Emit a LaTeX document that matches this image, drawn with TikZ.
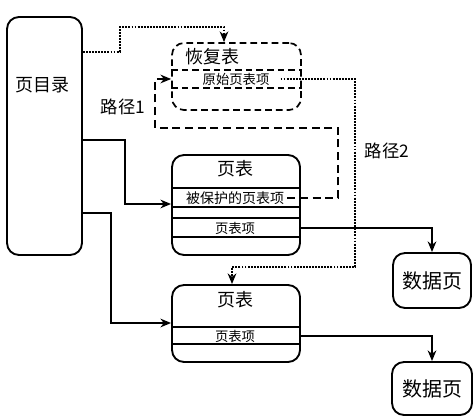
\documentclass[tikz,border=0pt]{standalone}
\usepackage{fontspec}
\setmainfont{Noto Sans CJK SC}
\usetikzlibrary{arrows.meta}
\tikzset{every picture/.style={line width=0.75pt}}

\begin{document}
\begin{tikzpicture}[x=0.75pt,y=0.75pt,yscale=-1,xscale=1,
  box/.style={draw, line width=1.4pt, rounded corners=9pt, inner sep=0pt},
  dashbox/.style={draw, line width=1.3pt, dash pattern=on 5pt off 3pt, rounded corners=9pt, inner sep=0pt},
  txt/.style={inner sep=2pt},
  solidarrow/.style={line width=1.8pt, -{Stealth[length=8pt,width=6.5pt]}},
  dashpath/.style={line width=1.8pt, dash pattern=on 6pt off 3.5pt, -{Stealth[length=8pt,width=6.5pt]}},
  dotpath/.style={line width=2pt, dash pattern=on 1.4pt off 0.9pt, -{Stealth[length=8pt,width=6.5pt]}}]
\useasboundingbox (0,0) rectangle (474,420);

%Shape: page directory
\node[box, minimum width=56.25pt, minimum height=178.5pt] (dir) at (44.5,136) {};
% Text Node
\node[txt, font=\fontsize{13.5}{13.5}\selectfont] (dirtitle) at (42,85) {页目录};

%Shape: recovery table
\node[dashbox, minimum width=96.75pt, minimum height=50.25pt] (rec) at (236.5,76.5) {};
\draw[line width=1.3pt, dash pattern=on 5pt off 3pt] (rec.west |- 0,70) -- (rec.east |- 0,70);
\draw[line width=1.3pt, dash pattern=on 5pt off 3pt] (rec.west |- 0,88) -- (rec.east |- 0,88);
% Text Node
\node[txt, font=\fontsize{13.5}{13.5}\selectfont] (rectitle) at (212.5,57) {恢复表};
% Text Node
\node[txt, font=\fontsize{10}{10}\selectfont] (orig) at (236,79) {原始页表项};

%Shape: page table 1
\node[box, minimum width=96pt, minimum height=75pt] (pt1) at (236,205) {};
\foreach \y in {188,207,218,237}
  \draw[line width=1.3pt] (pt1.west |- 0,\y) -- (pt1.east |- 0,\y);
% Text Node
\node[txt, font=\fontsize{13.5}{13.5}\selectfont] (pt1title) at (235,169) {页表};
% Text Node
\node[txt, font=\fontsize{10.5}{10.5}\selectfont] (prot) at (235,198) {被保护的页表项};
% Text Node
\node[txt, font=\fontsize{10}{10}\selectfont] (pte1) at (235,228) {页表项};

%Shape: page table 2
\node[box, minimum width=96pt, minimum height=57.75pt] (pt2) at (236,323.5) {};
\foreach \y in {327,344}
  \draw[line width=1.3pt] (pt2.west |- 0,\y) -- (pt2.east |- 0,\y);
% Text Node
\node[txt, font=\fontsize{13.5}{13.5}\selectfont] (pt2title) at (235,300) {页表};
% Text Node
\node[txt, font=\fontsize{10}{10}\selectfont] (pte2) at (235,336) {页表项};

%Shape: data pages
\node[box, minimum width=58.5pt, minimum height=41.25pt, font=\fontsize{15}{15}\selectfont] (dp1) at (432,280.5) {数据页};
\node[box, minimum width=60pt, minimum height=39.75pt, font=\fontsize{15}{15}\selectfont] (dp2) at (432,388.5) {数据页};

% Text Node
\node[txt, font=\fontsize{13}{13}\selectfont] (path1) at (123,107) {路径1};
% Text Node
\node[txt, font=\fontsize{13}{13}\selectfont] (path2) at (387,151) {路径2};

%Straight Lines: page directory to tables
\draw[solidarrow] (dir.east |- 0,140) -- (125,140) |- (pt1.west |- 0,204);
\draw[solidarrow] (dir.east |- 0,213) -- (111,213) |- (pt2.west |- 0,323);
%Straight Lines: page table entries to data pages
\draw[solidarrow] (pt1.east |- pte1) -| (dp1.north);
\draw[solidarrow] (pt2.east |- pte2) -| (dp2.north);

%Dotted Lines
\draw[dotpath] (dir.east |- 0,52) -| (120,27) -| (rec.north -| 224,0);
\draw[dotpath] ([xshift=6pt]orig.east) -| (355,267) -| (pt2.north -| 232,0);
%Dashed Lines: path 1
\draw[dashpath] (prot.east) -| (338,128) -- (155,128) |- (rec.west |- orig);
\end{tikzpicture}
\end{document}
